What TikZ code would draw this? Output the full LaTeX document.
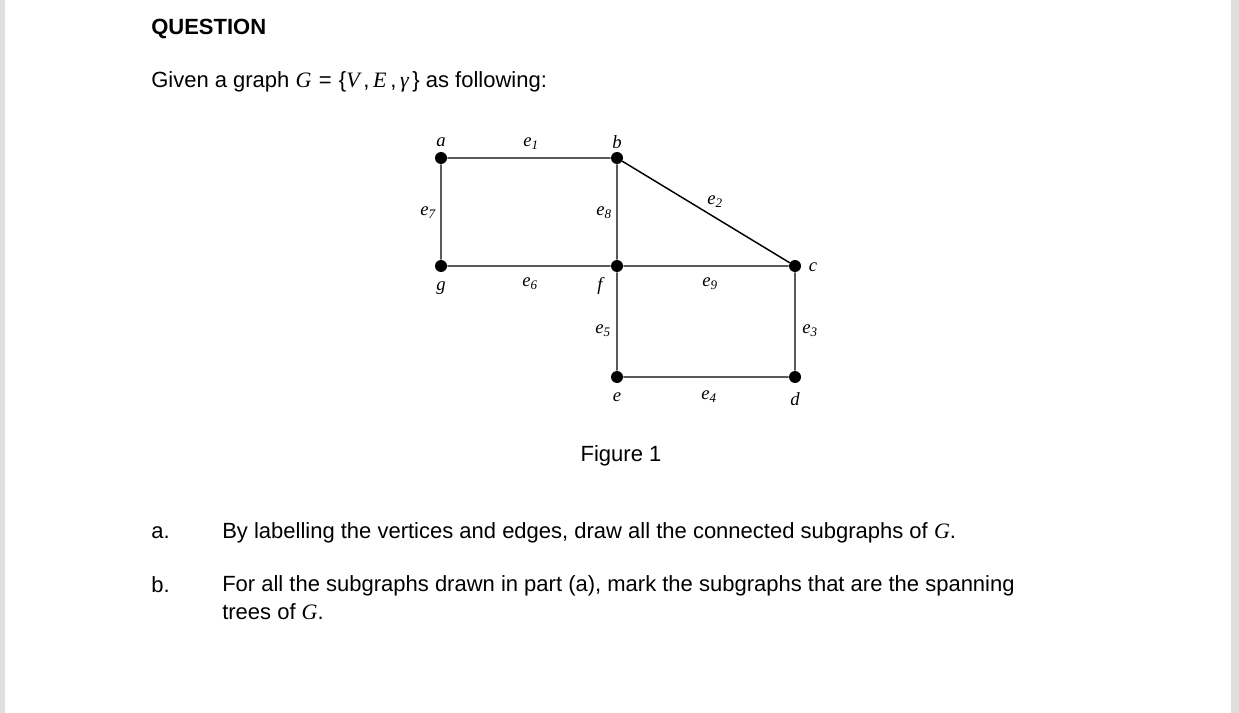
\documentclass[tikz,border=0pt]{standalone}
\usepackage{fontspec}
\setmainfont{Liberation Sans}
\newfontfamily\tms{Liberation Serif}
\newcommand{\mi}[1]{{\tms\itshape #1}}
\begin{document}
\begin{tikzpicture}[x=0.75pt,y=-0.75pt,
  vtx/.style={circle,fill=black,inner sep=0pt,minimum size=9pt},
  edg/.style={line width=1.1pt},
  lab/.style={font=\fontsize{14}{15}\selectfont\tms\itshape,inner sep=0pt},
  body/.style={font=\fontsize{16.5}{21}\selectfont,anchor=west,inner sep=0pt,align=left}]
\useasboundingbox (0,0) rectangle (1239,713);
\fill[white] (0,0) rectangle (1239,713);
\fill[gray!25] (0,0) rectangle (5,713);
\fill[gray!25] (1231,0) rectangle (1239,713);
\node[body,font=\fontsize{16.5}{21}\selectfont\bfseries] (q) at (151,29) {QUESTION};
\node[body] (given) at (151,82) {Given a graph \mi{G}\,\,=\,\,\{\mi{V}\,,\,\mi{E}\,,\,\mi{γ}\,\} as following:};
\node[vtx] (a) at (441,158) {};
\node[vtx] (b) at (617,158) {};
\node[vtx] (c) at (795,266) {};
\node[vtx] (g) at (441,266) {};
\node[vtx] (f) at (617,266) {};
\node[vtx] (e) at (617,377) {};
\node[vtx] (d) at (795,377) {};
\draw[edg] (a)--(b) (b)--(c) (c)--(d) (d)--(e) (e)--(f) (f)--(g) (g)--(a) (b)--(f) (f)--(c);
\node[lab] (la) at (441,142) {a};
\node[lab] (lb) at (617,142) {b};
\node[lab] (lc) at (813,267) {c};
\node[lab] (lg) at (441,288) {g};
\node[lab] (lf) at (600,286) {f};
\node[lab] (le) at (617,397) {e};
\node[lab] (ld) at (795,399) {d};
\node[lab] (e1) at (531,144) {e\textsubscript{1}};
\node[lab] (e2) at (715,202) {e\textsubscript{2}};
\node[lab] (e3) at (810,331) {e\textsubscript{3}};
\node[lab] (e4) at (709,397) {e\textsubscript{4}};
\node[lab] (e5) at (603,331) {e\textsubscript{5}};
\node[lab] (e6) at (530,284) {e\textsubscript{6}};
\node[lab] (e7) at (428,213) {e\textsubscript{7}};
\node[lab] (e8) at (604,213) {e\textsubscript{8}};
\node[lab] (e9) at (710,284) {e\textsubscript{9}};
\node[font=\fontsize{16.5}{21}\selectfont] (fig) at (621,456) {Figure 1};
\node[body] (pa) at (151,533) {a.};
\node[body] (ta) at (222,533) {By labelling the vertices and edges, draw all the connected subgraphs of \mi{G}.};
\node[body] (pb) at (151,585) {b.};
\node[body,anchor=north west] (tb) at (222,575) {For all the subgraphs drawn in part (a), mark the subgraphs that are the spanning\\trees of \mi{G}.};
\end{tikzpicture}
\end{document}
